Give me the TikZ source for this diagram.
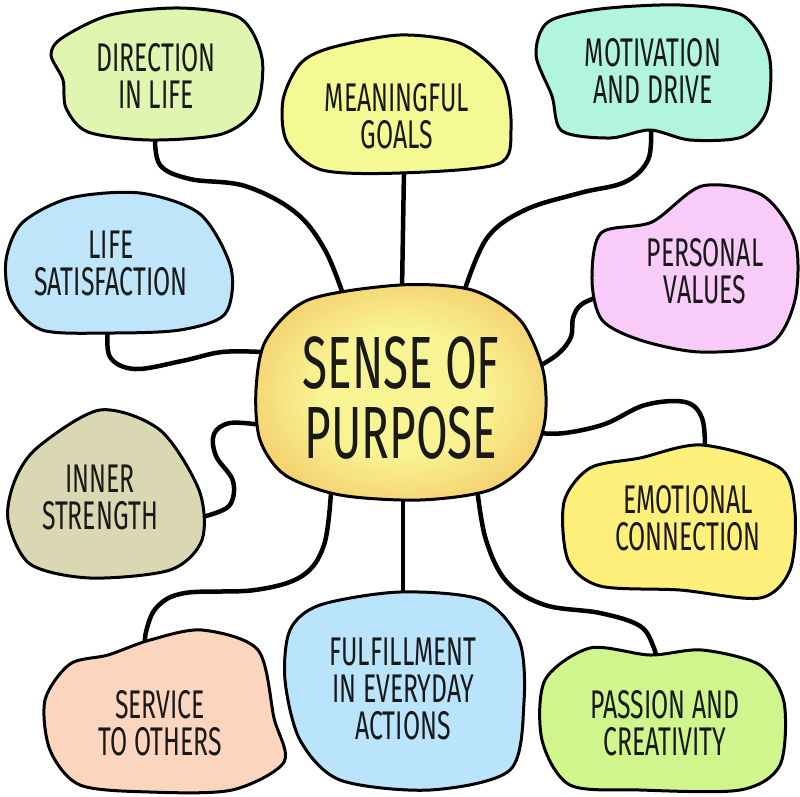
\documentclass[tikz,border=0pt]{standalone}
\usepackage{fontspec}
\newfontfamily\hand[FakeStretch=0.62]{Fira Sans}
\usetikzlibrary{positioning}
\definecolor{dirCol}{HTML}{DFF5B0}
\definecolor{goalCol}{HTML}{F4F993}
\definecolor{motCol}{HTML}{B2F5DE}
\definecolor{lifeCol}{HTML}{BEE5FA}
\definecolor{valCol}{HTML}{F8CBF9}
\definecolor{innCol}{HTML}{DAD8B2}
\definecolor{emoCol}{HTML}{FFF07C}
\definecolor{serCol}{HTML}{FCD5BF}
\definecolor{fulCol}{HTML}{BAE4FC}
\definecolor{pasCol}{HTML}{CFF58C}
\definecolor{sunIn}{HTML}{F8F494}
\definecolor{sunOut}{HTML}{F2A23E}
\pgfdeclareradialshading{sunglow}{\pgfpoint{0bp}{0bp}}{color(0bp)=(sunIn); color(14bp)=(sunIn); color(28bp)=(sunIn!55!sunOut); color(38bp)=(sunOut); color(50bp)=(sunOut)}

\begin{document}
\begin{tikzpicture}[x=1pt,y=-1pt,
  blob/.style={draw=black,line width=3pt,line join=round},
  word/.style={font={\hand\fontsize{40}{37}\selectfont},align=center,text=black!90},
  bigword/.style={font={\hand\fontsize{74}{70}\selectfont},align=center,text=black!90},
  link/.style={line width=4.5pt,line cap=round,line join=round}]
  \useasboundingbox (0,0) rectangle (800,796);
  % --- ends of the links ---
  \coordinate (dirE) at (155,135);   \coordinate (cDir) at (345,300);
  \coordinate (goalE) at (404,170);  \coordinate (cGoal) at (402,290);
  \coordinate (motE) at (651,128);   \coordinate (cMot) at (464,292);
  \coordinate (valE) at (606,294);   \coordinate (cVal) at (536,368);
  \coordinate (emoE) at (705,450);   \coordinate (cEmo) at (538,433);
  \coordinate (pasE) at (656,660);   \coordinate (cPas) at (477,488);
  \coordinate (fulE) at (403,596);   \coordinate (cFul) at (403,495);
  \coordinate (serE) at (145,652);   \coordinate (cSer) at (331,492);
  \coordinate (innE) at (202,517);   \coordinate (cInn) at (262,425);
  \coordinate (lifeE) at (108,328);  \coordinate (cLife) at (262,352);
  % --- links ---
  \draw[link] plot[smooth,tension=0.6] coordinates {(dirE) (160,165) (190,179) (245,186) (295,212) (325,250) (cDir)};
  \draw[link] (goalE) -- (cGoal);
  \draw[link] plot[smooth,tension=0.6] coordinates {(motE) (648,160) (625,182) (580,193) (525,210) (487,238) (cMot)};
  \draw[link] plot[smooth,tension=0.6] coordinates {(valE) (582,304) (573,318) (571,337) (558,354) (cVal)};
  \draw[link] plot[smooth,tension=0.6] coordinates {(cEmo) (565,433) (605,424) (645,405) (685,402) (702,418) (emoE)};
  \draw[link] plot[smooth,tension=0.6] coordinates {(cPas) (486,540) (507,582) (545,605) (600,613) (640,626) (654,648) (pasE)};
  \draw[link] (cFul) -- (fulE);
  \draw[link] plot[smooth,tension=0.6] coordinates {(cSer) (324,545) (302,576) (255,590) (185,593) (157,607) (146,632) (serE)};
  \draw[link] plot[smooth,tension=0.6] coordinates {(cInn) (230,423) (214,434) (216,456) (233,481) (229,506) (innE)};
  \draw[link] plot[smooth,tension=0.6] coordinates {(lifeE) (110,357) (135,369) (182,361) (222,352) (cLife)};
  % --- blobs ---
  \draw[blob,fill=dirCol] plot[smooth cycle] coordinates {(62,38) (110,15) (180,8) (240,18) (262,58) (256,108) (222,134) (150,140) (88,132) (66,108) (63,80) (51,55)};
  \draw[blob,fill=goalCol] plot[smooth cycle] coordinates {(330,48) (400,35) (462,44) (503,80) (511,130) (498,164) (400,173) (322,170) (287,142) (283,100) (300,64)};
  \draw[blob,fill=motCol] plot[smooth cycle] coordinates {(548,22) (600,9) (680,5) (742,15) (769,55) (767,110) (742,137) (690,140) (650,130) (610,138) (562,131) (552,96) (536,55)};
  \draw[blob,fill=lifeCol] plot[smooth cycle] coordinates {(22,223) (70,198) (140,193) (200,214) (231,268) (225,314) (180,330) (110,333) (42,330) (11,300) (6,260)};
  \draw[blob,fill=valCol] plot[smooth cycle] coordinates {(601,233) (652,222) (702,186) (762,195) (795,240) (795,300) (770,344) (700,352) (640,340) (602,320) (592,280)};
  \draw[blob,fill=innCol] plot[smooth cycle] coordinates {(38,447) (100,410) (160,430) (199,490) (202,540) (170,570) (90,578) (30,564) (8,520) (15,480)};
  \draw[blob,fill=emoCol] plot[smooth cycle] coordinates {(590,468) (640,458) (702,445) (780,468) (795,512) (790,570) (760,598) (680,590) (600,586) (568,560) (564,502)};
  \draw[blob,fill=serCol] plot[smooth cycle] coordinates {(108,655) (150,640) (202,630) (258,650) (274,718) (284,762) (232,790) (150,792) (80,785) (50,750) (45,700) (70,664)};
  \draw[blob,fill=fulCol] plot[smooth cycle] coordinates {(320,605) (400,592) (482,600) (519,640) (524,702) (510,770) (430,790) (340,780) (300,740) (285,680) (290,630)};
  \draw[blob,fill=pasCol] plot[smooth cycle] coordinates {(590,648) (650,655) (702,650) (760,665) (784,702) (780,765) (740,790) (640,790) (570,785) (542,740) (545,680)};
  % --- centre ---
  \shade[blob,shading=sunglow] plot[smooth cycle] coordinates {(308,300) (400,285) (472,290) (520,320) (543,370) (545,420) (530,460) (490,490) (420,500) (340,495) (285,475) (260,440) (256,390) (266,340)};
  % --- texts ---
  \node[bigword] (purpose) at (401,398) {SENSE OF\\PURPOSE};
  \node[word] (dir) at (156,76) {DIRECTION\\IN LIFE};
  \node[word] (goal) at (397,116) {MEANINGFUL\\GOALS};
  \node[word] (mot) at (653,71) {MOTIVATION\\AND DRIVE};
  \node[word] (life) at (111,263) {LIFE\\SATISFACTION};
  \node[word] (val) at (705,271) {PERSONAL\\VALUES};
  \node[word] (inn) at (100,497) {INNER\\STRENGTH};
  \node[word] (emo) at (688,518) {EMOTIONAL\\CONNECTION};
  \node[word] (ser) at (160,723) {SERVICE\\TO OTHERS};
  \node[word] (ful) at (403,689) {FULFILLMENT\\IN EVERYDAY\\ACTIONS};
  \node[word] (pas) at (665,723) {PASSION AND\\CREATIVITY};
\end{tikzpicture}
\end{document}
